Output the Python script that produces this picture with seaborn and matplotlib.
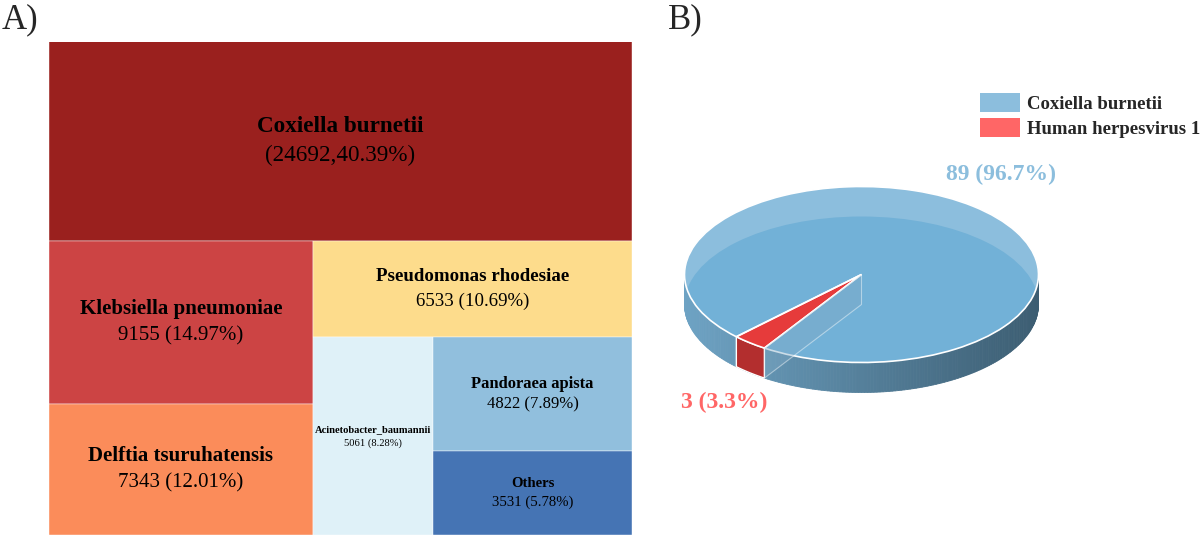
import numpy as np
import seaborn as sns
import matplotlib.pyplot as plt
import matplotlib.colors as mcolors
from matplotlib.patches import Rectangle, Polygon, Ellipse, Patch, PathPatch
from matplotlib.transforms import Affine2D

sns.set_theme(style="white")
plt.rcParams['font.family'] = ['Liberation Serif', 'DejaVu Serif']

# A) treemap data
species = ['Coxiella burnetii', 'Klebsiella pneumoniae', 'Delftia tsuruhatensis',
           'Pseudomonas rhodesiae', 'Acinetobacter_baumannii', 'Pandoraea apista', 'Others']
reads = [24692, 9155, 7343, 6533, 5061, 4822, 3531]

# B) pie data
pie_names = ['Coxiella burnetii', 'Human herpesvirus 1']
pie_counts = [89, 3]

# styles
tm_colors = ['#9a201e', '#cc4444', '#fb8c5a', '#fddc8c', '#dff1f8', '#91bfdd', '#4574b4']
tm_sizes = [16.7, 15, 15, 13.6, 7.6, 12, 10.6]
# binary split tree of the treemap (indices into species)
tree = [0, [[1, 2], [3, [4, [5, 6]]]]]


def total(node):
    if isinstance(node, list):
        return sum(total(n) for n in node)
    return reads[node]


def layout(node, x, y, w, h, vertical, out):
    if not isinstance(node, list):
        out[node] = (x, y, w, h)
        return
    a, b = node
    frac = total(a) / total(node)
    if vertical:
        ha = h * frac
        layout(a, x, y + h - ha, w, ha, False, out)
        layout(b, x, y, w, h - ha, False, out)
    else:
        wa = w * frac
        layout(a, x, y, wa, h, True, out)
        layout(b, x + wa, y, w - wa, h, True, out)


fig = plt.figure(figsize=(12, 5.39), dpi=100)

# ---------------- A) treemap ----------------
ax1 = fig.add_axes([49 / 1200, 4 / 539, 583 / 1200, 493.5 / 539])
ax1.set_xlim(0, 1)
ax1.set_ylim(0, 1)
ax1.axis('off')

rects = {}
layout(tree, 0, 0, 1, 1, True, rects)
grand = sum(reads)
for i, name in enumerate(species):
    x, y, w, h = rects[i]
    ax1.add_patch(Rectangle((x, y), w, h, facecolor=tm_colors[i],
                            edgecolor='white', linewidth=0.3))
    pct = reads[i] / grand * 100
    if i == 0:
        val = f'({reads[i]},{pct:.2f}%)'
    else:
        val = f'{reads[i]} ({pct:.2f}%)'
    fs = tm_sizes[i]
    off = 0.635 * fs
    ax1.annotate(name, (x + w / 2, y + h / 2), xytext=(0, off), textcoords='offset points',
                 ha='center', va='center', fontsize=fs, fontweight='bold', color='black')
    ax1.annotate(val, (x + w / 2, y + h / 2), xytext=(0, -off), textcoords='offset points',
                 ha='center', va='center', fontsize=fs, color='black')

# ---------------- B) 3D-looking pie ----------------
ax2 = fig.add_axes([640 / 1200, 0, 560 / 1200, 1])
cx, cy, rx, ry, depth = 861.5, 264.5, 177, 88, 30
top_colors = ['#8cbedd', '#e63b3b']
blue_frac = pie_counts[0] / sum(pie_counts)
wedges, _ = ax2.pie(pie_counts, colors=top_colors, startangle=225 - 360 * blue_frac,
                    counterclock=True, radius=1, center=(0, 0),
                    wedgeprops=dict(linewidth=0))
ax2.set_xlim(640, 1200)
ax2.set_ylim(0, 539)
ax2.set_aspect('auto')
ax2.axis('off')

tr = Affine2D().scale(rx, ry).translate(cx, cy) + ax2.transData
for w in wedges:
    w.set_transform(tr)
    w.set_zorder(3)

red_t1, red_t2 = wedges[1].theta1 % 360, wedges[1].theta2 % 360
if red_t2 < red_t1:
    red_t2 += 360


def rim(t, dz=0.0):
    r = np.deg2rad(t)
    return cx + rx * np.cos(r), cy + ry * np.sin(r) - dz


# side wall (front half) with left-to-right shading
c_left = np.array(mcolors.to_rgb('#6ea3c4'))
c_right = np.array(mcolors.to_rgb('#3c5d72'))
for t0 in np.arange(180, 360, 1.0):
    t1 = t0 + 1.0
    mid = np.deg2rad((t0 + t1) / 2)
    k = (np.cos(mid) + 1) / 2
    col = c_left * (1 - k) + c_right * k
    pts = [rim(t0), rim(t1), rim(t1, depth), rim(t0, depth)]
    ax2.add_patch(Polygon(pts, closed=True, facecolor=col, edgecolor=col,
                          linewidth=0.6, zorder=1))

ts = np.linspace(red_t1, red_t2, 20)
red_side = [rim(t) for t in ts] + [rim(t, depth) for t in ts[::-1]]
ax2.add_patch(Polygon(red_side, closed=True, facecolor='#b32e2e', edgecolor='white',
                      linewidth=1.0, zorder=2))

# lighter outer band on the top face
inner = Ellipse((0, -depth / ry), 2, 2, facecolor='#72b1d7', edgecolor='none',
                transform=tr, zorder=4)
ax2.add_patch(inner)
inner.set_clip_path(wedges[0])

for w in wedges:
    ax2.add_patch(PathPatch(w.get_path(), fill=False, edgecolor='white', linewidth=1.2,
                            transform=tr, zorder=5))

# translucent cut face at the slice boundary
a = red_t2
cut = [(cx, cy), rim(a), rim(a, depth), (cx, cy - depth)]
ax2.add_patch(Polygon(cut, closed=True, facecolor='#7fa9c4', alpha=0.4,
                      edgecolor='none', zorder=6))
ax2.add_patch(Polygon(cut, closed=True, fill=False, edgecolor='white', alpha=0.45,
                      linewidth=0.8, zorder=6))

label_colors = ['#8cbedd', '#ff6666']
pcts = [c / sum(pie_counts) * 100 for c in pie_counts]
ax2.text(1000.7, 539 - 174.5, f'{pie_counts[0]} ({pcts[0]:.1f}%)', ha='center', va='center',
         fontsize=17, fontweight='bold', color=label_colors[0])
ax2.text(723.8, 539 - 402.5, f'{pie_counts[1]} ({pcts[1]:.1f}%)', ha='center', va='center',
         fontsize=17, fontweight='bold', color=label_colors[1])

handles = [Patch(facecolor=c, edgecolor='none') for c in label_colors]
ax2.legend(handles, pie_names, loc='upper left', bbox_to_anchor=(979.6, 539 - 92.6),
           bbox_transform=ax2.transData, frameon=False, borderpad=0, borderaxespad=0,
           prop=dict(weight='bold', size=13.5), handlelength=2.13, handleheight=1.2,
           handletextpad=0.38, labelspacing=0.3)

# panel letters
fig.text(2 / 1200, 1 - 28 / 539, 'A)', fontsize=25, va='baseline', ha='left')
fig.text(668 / 1200, 1 - 28 / 539, 'B)', fontsize=25, va='baseline', ha='left')

fig.savefig('out.png', dpi=100)
